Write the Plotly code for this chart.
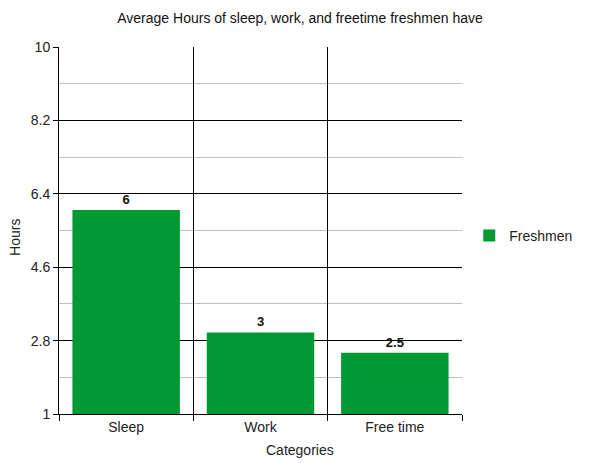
import plotly.graph_objects as go

# chart data
categories = ["Sleep", "Work", "Free time"]
freshmen_hours = [6, 3, 2.5]
y_ticks = [1, 2.8, 4.6, 6.4, 8.2, 10]

GREEN = "rgb(0,153,51)"
FONT = "Liberation Sans, Arial, sans-serif"

fig = go.Figure()
fig.add_trace(
    go.Bar(
        x=categories,
        y=freshmen_hours,
        name="Freshmen",
        marker=dict(color=GREEN, line=dict(width=0)),
        width=0.8,
        text=[f"<b>{v:g}</b>" for v in freshmen_hours],
        textposition="outside",
        textfont=dict(size=13, color="#111"),
        cliponaxis=False,
    )
)

# the page body adds 8px of margin, so the margins are shifted by that
fig.update_layout(
    width=600,
    height=463,
    margin=dict(l=51, r=146, t=39, b=57),
    paper_bgcolor="white",
    plot_bgcolor="white",
    font=dict(family=FONT, size=14, color="#222"),
    title=dict(
        text="Average Hours of sleep, work, and freetime freshmen have",
        x=0.5 - 8 / 600,
        xanchor="center",
        y=0.978,
        yanchor="middle",
        font=dict(size=14, color="#111"),
    ),
    showlegend=True,
    legend=dict(
        x=1.018,
        xanchor="left",
        y=0.485,
        yanchor="middle",
        font=dict(size=14, color="#222"),
        itemsizing="constant",
    ),
)

# axis titles as annotations: the x title is centred on the whole figure
fig.add_annotation(
    text="Categories", xref="paper", yref="paper", x=0.598, y=-0.098,
    xanchor="center", yanchor="middle", showarrow=False, font=dict(size=14),
)
fig.add_annotation(
    text="Hours", xref="paper", yref="paper", x=-0.109, y=0.48, textangle=-90,
    xanchor="center", yanchor="middle", showarrow=False, font=dict(size=14),
)

fig.update_xaxes(
    showline=True,
    linecolor="black",
    linewidth=1,
    showgrid=True,
    gridcolor="black",
    gridwidth=1,
    tickson="boundaries",
    ticks="outside",
    ticklen=6,
    tickcolor="black",
    tickfont=dict(size=14),
    automargin=False,
)

fig.update_yaxes(
    automargin=False,
    range=[1, 10],
    tickvals=y_ticks,
    ticktext=[f"{t:g}" for t in y_ticks],
    showline=True,
    linecolor="black",
    linewidth=1,
    showgrid=True,
    gridcolor="black",
    gridwidth=1,
    ticks="outside",
    ticklen=5,
    tickcolor="black",
    tickfont=dict(size=14),
    zeroline=False,
    minor=dict(dtick=0.9, tick0=1, showgrid=True, gridcolor="#c0c0c0", gridwidth=1, ticks=""),
)

fig.write_html("out.html")
